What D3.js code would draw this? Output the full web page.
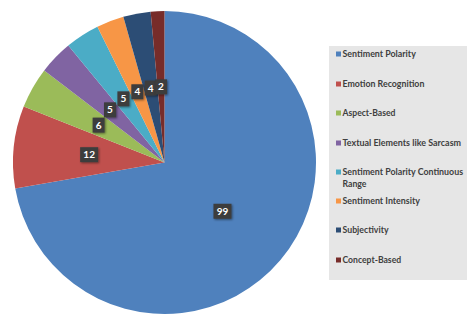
<!DOCTYPE html>
<html>
<head>
<meta charset="utf-8">
<script src="https://cdn.jsdelivr.net/npm/d3@7"></script>
<style>
  html, body { margin: 0; padding: 0; background: #ffffff; }
  svg { display: block; }
</style>
</head>
<body>
<svg id="chart" width="474" height="326"></svg>
<script>
// Research focus categories and their paper counts
const categories = [
  "Sentiment Polarity",
  "Emotion Recognition",
  "Aspect-Based",
  "Textual Elements like Sarcasm",
  "Sentiment Polarity Continuous Range",
  "Sentiment Intensity",
  "Subjectivity",
  "Concept-Based"
];
const counts = [99, 12, 6, 5, 5, 4, 4, 2];
const colors = ["#4F81BD", "#C0504D", "#9BBB59", "#8064A2", "#4BACC6", "#F79646", "#2C4D75", "#772C2A"];
// Legend labels wrapped as they appear in the legend
const legendLines = [
  ["Sentiment Polarity"],
  ["Emotion Recognition"],
  ["Aspect-Based"],
  ["Textual Elements like Sarcasm"],
  ["Sentiment Polarity Continuous", "Range"],
  ["Sentiment Intensity"],
  ["Subjectivity"],
  ["Concept-Based"]
];
// Target width of each legend line (px); font size is fitted to it
const legendWidths = [
  [73.4], [82], [53], [118.7], [120.7, 24], [77.7], [46], [58.7]
];

const data = categories.map((c, i) => ({
  name: c, value: counts[i], color: colors[i], lines: legendLines[i], widths: legendWidths[i]
}));

const svg = d3.select("#chart");
const cx = 164.5, cy = 162.5, R = 151.5;

const defs = svg.append("defs");
const sh = defs.append("filter").attr("id", "lblShadow")
  .attr("x", "-50%").attr("y", "-50%").attr("width", "200%").attr("height", "200%");
sh.append("feDropShadow").attr("dx", 1).attr("dy", 1).attr("stdDeviation", 1)
  .attr("flood-color", "#000").attr("flood-opacity", 0.45);

const pie = d3.pie().value(d => d.value).sort(null);
const arc = d3.arc().innerRadius(0).outerRadius(R);
const arcs = pie(data);

const g = svg.append("g").attr("transform", `translate(${cx},${cy})`);
g.selectAll("path.slice")
  .data(arcs)
  .join("path")
  .attr("class", "slice")
  .attr("d", arc)
  .attr("fill", d => d.data.color);

// Value labels in dark boxes at the slice centroids
const labels = g.selectAll("g.lbl")
  .data(arcs)
  .join("g")
  .attr("class", "lbl")
  .attr("transform", d => `translate(${arc.centroid(d)})`);

labels.each(function(d) {
  const sel = d3.select(this);
  const txt = String(d.data.value);
  const w = txt.length > 1 ? 18 : 12;
  const h = 15;
  sel.append("rect")
    .attr("x", -w / 2).attr("y", -h / 2)
    .attr("width", w).attr("height", h)
    .attr("fill", "#3d3d3d")
    .attr("filter", "url(#lblShadow)");
  sel.append("text")
    .attr("text-anchor", "middle")
    .attr("dy", "0.36em")
    .attr("fill", "#ffffff")
    .attr("font-family", "Lato, 'Open Sans', sans-serif")
    .attr("font-weight", "bold")
    .attr("font-size", "10px")
    .text(txt);
});

// Legend
const legend = svg.append("g");
legend.append("rect")
  .attr("x", 329).attr("y", 46)
  .attr("width", 138).attr("height", 234)
  .attr("fill", "#e6e6e6");

const itemY = [54, 84, 113, 143, 172, 201, 230, 260];
const items = legend.selectAll("g.item")
  .data(data)
  .join("g")
  .attr("class", "item")
  .attr("transform", (d, i) => `translate(336,${itemY[i]})`);

items.append("rect")
  .attr("x", 0).attr("y", -2.5)
  .attr("width", 5).attr("height", 5)
  .attr("fill", d => d.color);

const baseSize = 9.8;
items.each(function(d) {
  const sel = d3.select(this);
  d.lines.forEach((ln, k) => {
    const t = sel.append("text")
      .attr("x", 6.5)
      .attr("y", k * 11.5)
      .attr("dy", "0.35em")
      .attr("fill", "#404040")
      .attr("font-family", "Lato, 'Open Sans', sans-serif")
      .attr("font-weight", "bold")
      .attr("font-size", baseSize + "px")
      .text(ln);
    const natural = t.node().getComputedTextLength();
    const size = Math.min(10.2, baseSize * d.widths[k] / natural);
    t.attr("font-size", size.toFixed(2) + "px");
  });
});
</script>
</body>
</html>
